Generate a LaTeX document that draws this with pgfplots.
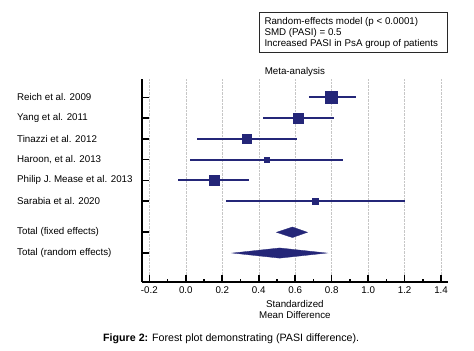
\documentclass[border=0pt]{standalone}
\usepackage{fontspec}
\setmainfont{Liberation Sans}
\usepackage{pgfplots}
\pgfplotsset{compat=1.18}
\usepackage{pgfplotstable}
\definecolor{navy}{RGB}{36,38,120}
\definecolor{boxgray}{RGB}{40,40,40}

\pgfplotstableread{
y est s
-1 0.798 6.3
-2 0.615 5.0
-3 0.333 4.3
-4 0.443 2.8
-5 0.155 5.0
-6 0.708 2.8
}\studies

\newcommand{\fs}{\fontsize{9.8}{11.6}\selectfont}

\begin{document}
\begin{tikzpicture}[x=1bp,y=1bp]
\useasboundingbox (0,0) rectangle (474,350);
\begin{axis}[
  at={(141.7bp,68.3bp)}, anchor=south west,
  scale only axis, width=306.3bp, height=202.7bp,
  xmin=-0.242, xmax=1.438, ymin=-9.88, ymax=-0.118,
  axis lines*=left,
  axis line style={line width=1.6bp},
  tick align=inside,
  xtick={-0.2,0,0.2,0.4,0.6,0.8,1.0,1.2,1.4},
  minor x tick num=1,
  major tick length=7bp, minor tick length=3bp,
  every tick/.style={black, line width=1.6bp},
  /pgf/number format/fixed,
  /pgf/number format/fixed zerofill,
  /pgf/number format/precision=1,
  /pgf/number format/assume math mode=true,
  xticklabel style={font=\fs, inner sep=0pt, yshift=-5bp},
  ytick={-1,-2,-3,-4,-5,-6,-7.5,-8.5},
  yticklabels={Reich et al. 2009, Yang et al. 2011, Tinazzi et al. 2012, {Haroon, et al. 2013}, Philip J. Mease et al. 2013, Sarabia et al. 2020, Total (fixed effects), Total (random effects)},
  yticklabel style={font=\fs, anchor=west, inner sep=0pt, xshift=-124.7bp},
  xmajorgrids, ymajorgrids=false,
  major grid style={densely dotted, gray!45, line width=0.5bp},
  clip=false,
]
% confidence intervals
\addplot[navy, line width=1.8bp, mark=none, forget plot] coordinates {(0.675,-1) (0.934,-1)};
\addplot[navy, line width=1.8bp, mark=none, forget plot] coordinates {(0.424,-2) (0.812,-2)};
\addplot[navy, line width=1.8bp, mark=none, forget plot] coordinates {(0.063,-3) (0.610,-3)};
\addplot[navy, line width=1.8bp, mark=none, forget plot] coordinates {(0.023,-4) (0.863,-4)};
\addplot[navy, line width=1.8bp, mark=none, forget plot] coordinates {(-0.042,-5) (0.348,-5)};
\addplot[navy, line width=1.8bp, mark=none, forget plot] coordinates {(0.220,-6) (1.202,-6)};
% point estimates
\addplot[scatter, only marks, mark=square*,
  scatter/use mapped color={draw=navy, fill=navy},
  visualization depends on={\thisrow{s} \as \msz},
  scatter/@pre marker code/.append style={/tikz/mark size=\msz bp}]
  table[x=est, y=y] {\studies};
% pooled estimates
\addplot[fill=navy, draw=navy, line width=0.3bp] coordinates {(0.497,-7.5) (0.585,-7.245) (0.667,-7.5) (0.585,-7.755)} -- cycle;
\addplot[fill=navy, draw=navy, line width=0.3bp] coordinates {(0.255,-8.5) (0.515,-8.255) (0.774,-8.5) (0.515,-8.745)} -- cycle;
\end{axis}
% info box
\draw[boxgray, line width=1.3bp] (259.3,297.3) rectangle (447.7,337.3);
\node[font=\fs, anchor=base west, inner sep=0pt] at (264.3,326) {Random-effects model (p < 0.0001)};
\node[font=\fs, anchor=base west, inner sep=0pt] at (264.3,314.6) {SMD (PASI) = 0.5};
\node[font=\fs, anchor=base west, inner sep=0pt] at (264.3,303.3) {Increased PASI in PsA group of patients};
% axis title
\node[font=\fs, anchor=base, inner sep=0pt] at (294.9,275.7) {Meta-analysis};
% x label
\node[font=\fs, anchor=base, inner sep=0pt] at (294.9,42.7) {Standardized};
\node[font=\fs, anchor=base, inner sep=0pt] at (294.9,31.4) {Mean Difference};
% caption
\node[font=\fontsize{10.7}{12.8}\selectfont, anchor=base, inner sep=0pt] at (231.2,8.5) {\textbf{Figure 2:} Forest plot demonstrating (PASI difference).};
\end{tikzpicture}
\end{document}
